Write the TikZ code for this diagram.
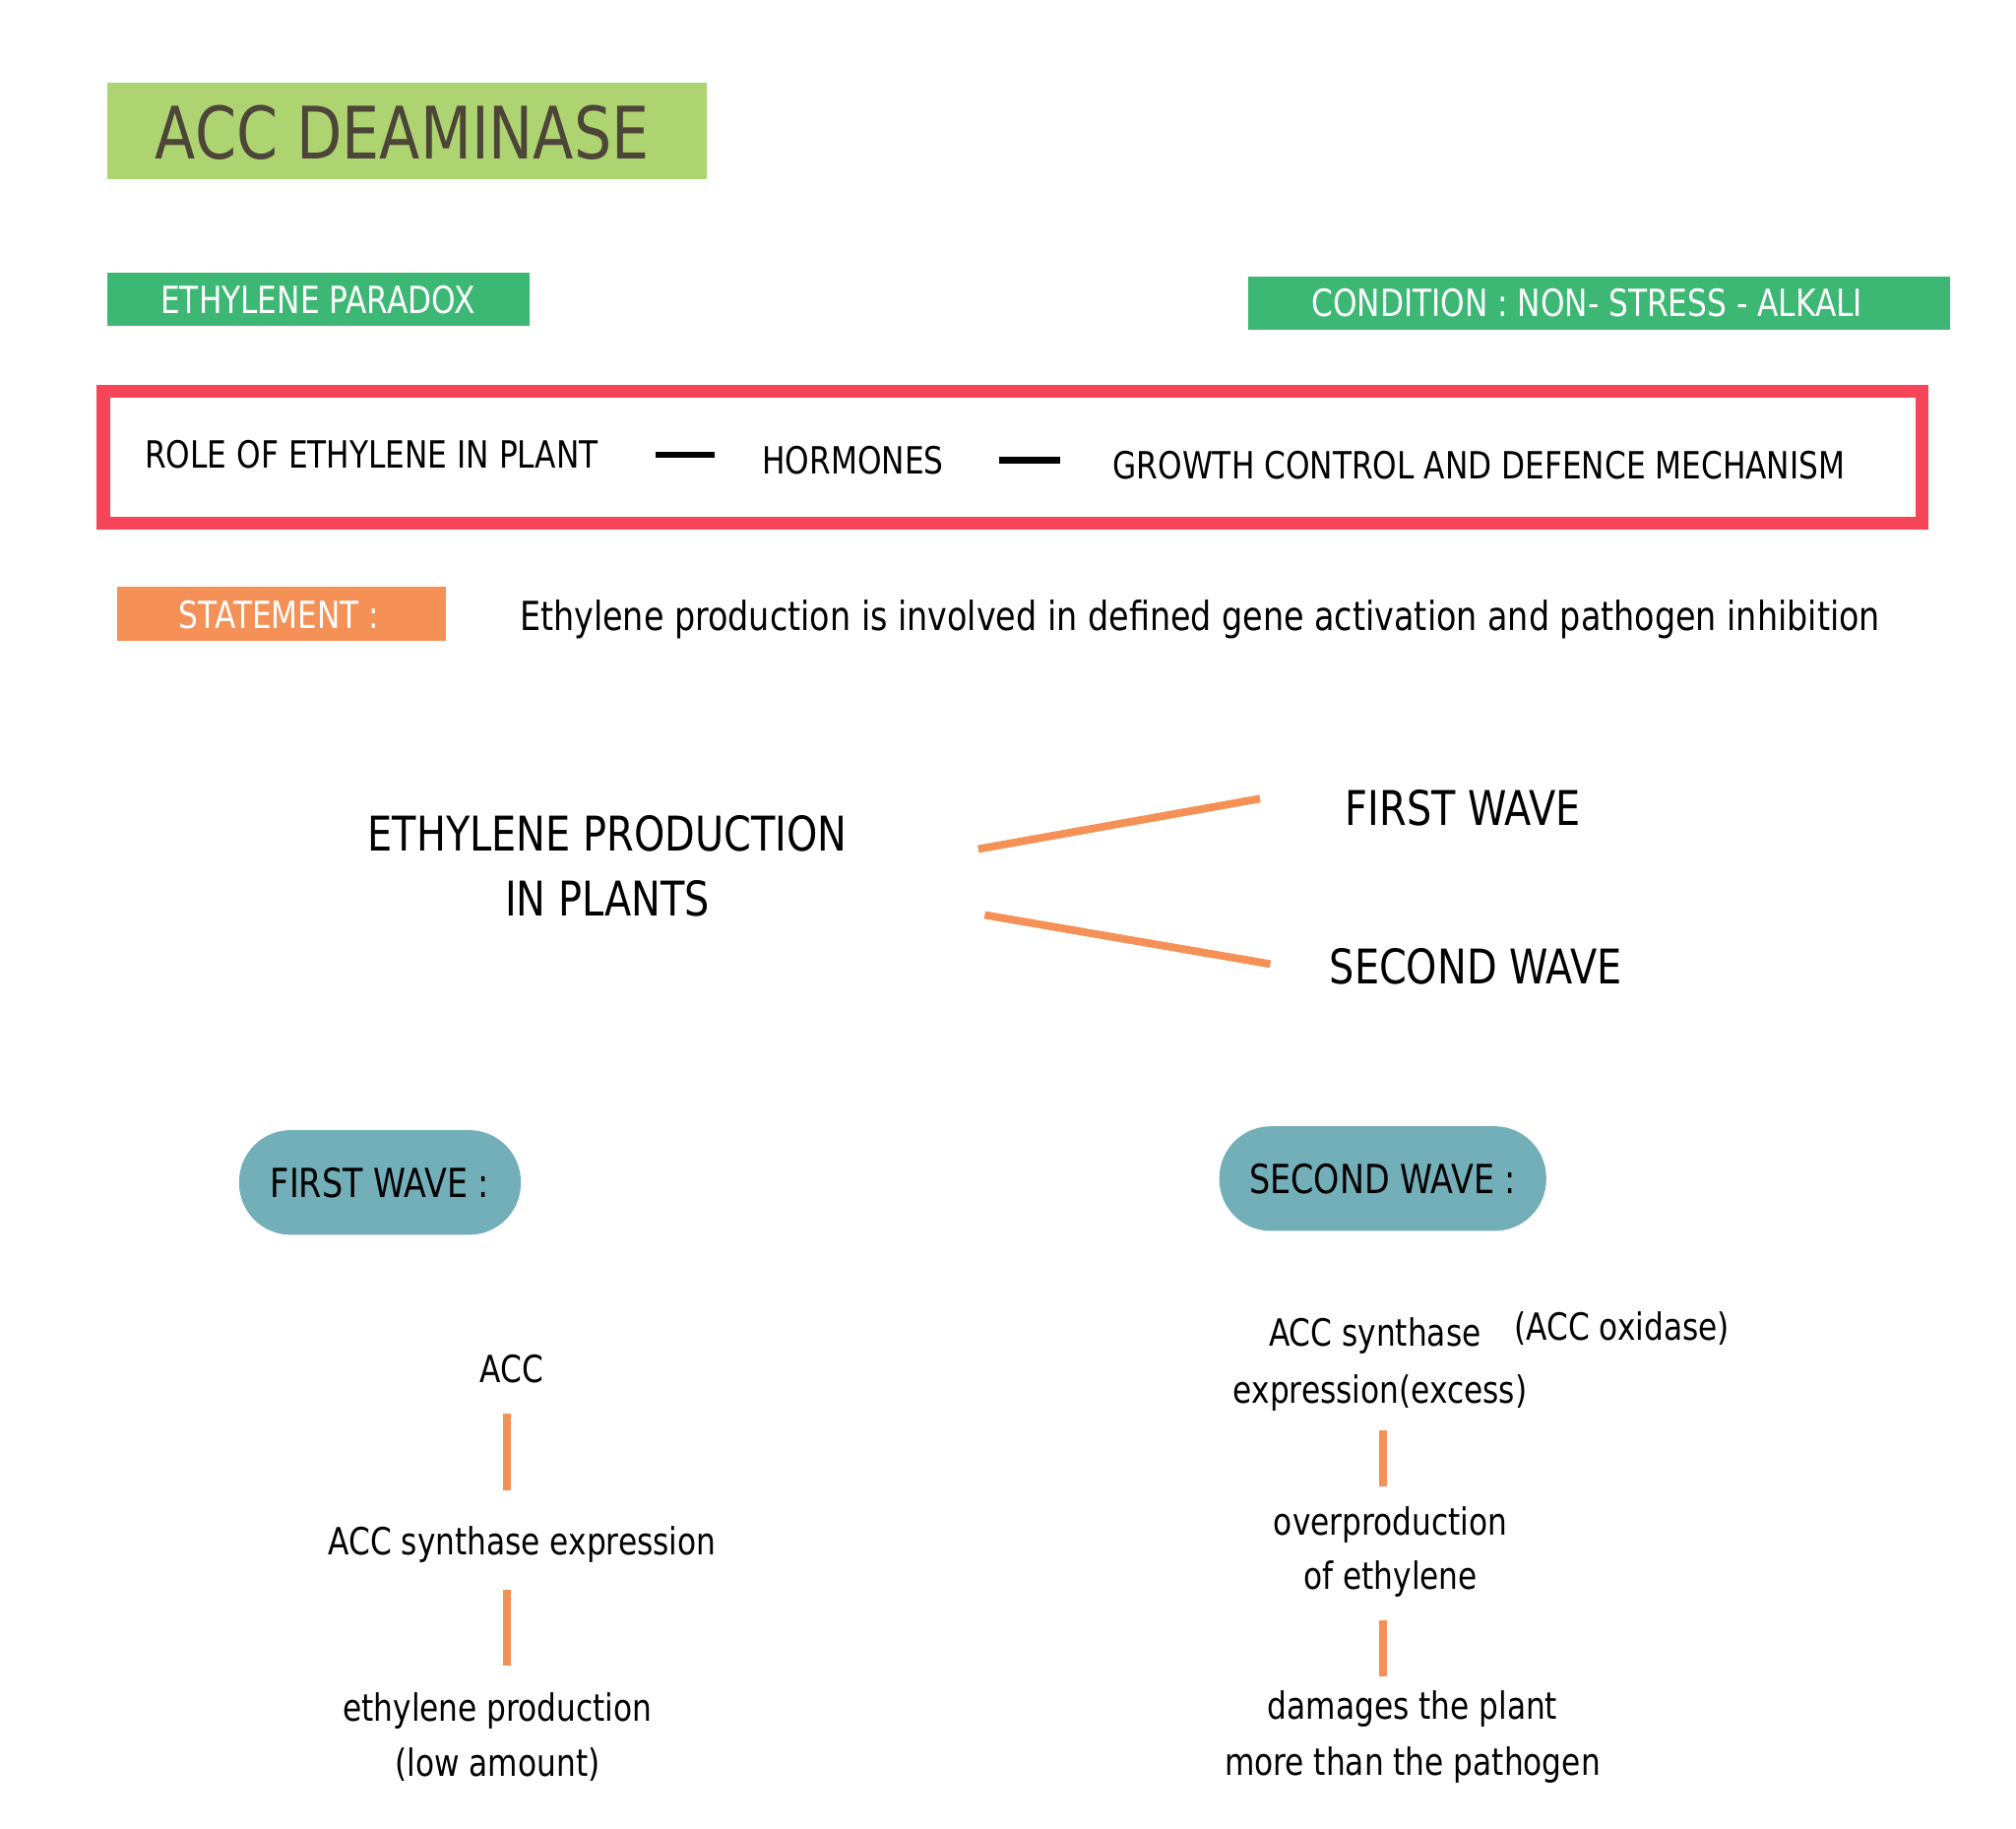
\documentclass[tikz,border=0pt]{standalone}
\usepackage{fontspec}
\setmainfont{DejaVu Sans}[FakeStretch=0.82]
\definecolor{lgreen}{HTML}{AED472}
\definecolor{dgreen}{HTML}{3DB874}
\definecolor{rred}{HTML}{F64558}
\definecolor{orng}{HTML}{F59157}
\definecolor{teal}{HTML}{72AFB9}
\definecolor{ttl}{HTML}{4D4538}
\begin{document}
\begin{tikzpicture}[x=1pt,y=-1pt,
  f/.style={font=\fontsize{#1}{#1}\selectfont},
  t/.style={f=29,inner sep=0,align=center},
  big/.style={font=\fontsize{37}{50}\selectfont,inner sep=0,align=center},
  band/.style={inner sep=0,text=white,f=29},
  conn/.style={orng,line width=6pt},
  bdash/.style={line width=5pt}]
\useasboundingbox (0,0) rectangle (1560,1415);
% title
\fill[lgreen] (83,64) rectangle (547,139);
\node[anchor=west,text=ttl,f=56,inner sep=0] (title) at (120,103) {ACC DEAMINASE};
\fill[dgreen] (83,211) rectangle (410,252);
\node[band] (para) at (246,232) {ETHYLENE PARADOX};
\fill[dgreen] (966,214) rectangle (1509,255);
\node[band] (cond) at (1228,234) {CONDITION : NON- STRESS - ALKALI};
% red box
\draw[rred,line width=10pt] (80,303) rectangle (1487,405);
\node[t,anchor=west] (role) at (112,352) {ROLE OF ETHYLENE IN PLANT};
\coordinate (d1a) at (507,352); \coordinate (d1b) at (553,352);
\draw[bdash] (d1a) -- (d1b);
\node[t] (horm) at (660,356) {HORMONES};
\coordinate (d2a) at (773,356); \coordinate (d2b) at (820,356);
\draw[bdash] (d2a) -- (d2b);
\node[t,anchor=west] (growth) at (861,360) {GROWTH CONTROL AND DEFENCE MECHANISM};
% statement
\fill[orng] (91,454) rectangle (345,496);
\node[band] (stat) at (216,476) {STATEMENT :};
\node[f=31,inner sep=0,anchor=west] (stext) at (402,479) {Ethylene production is involved in defined gene activation and pathogen inhibition};
% production
\node[big] (prod) at (470,670) {ETHYLENE PRODUCTION\\IN PLANTS};
\node[big] (fw) at (1132,625) {FIRST WAVE};
\node[big] (sw) at (1142,748) {SECOND WAVE};
\coordinate (l1a) at (757,657); \coordinate (l1b) at (975,618);
\coordinate (l2a) at (762,708); \coordinate (l2b) at (983,746);
\draw[conn] (l1a) -- (l1b);
\draw[conn] (l2a) -- (l2b);
% pills
\node[fill=teal,rounded corners=40pt,minimum width=218pt,minimum height=81pt,f=31,inner sep=0] (p1) at (294,915) {FIRST WAVE :};
\node[fill=teal,rounded corners=40pt,minimum width=253pt,minimum height=81pt,f=31,inner sep=0] (p2) at (1070,912) {SECOND WAVE :};
% left chain
\node[t] (acc) at (396,1059) {ACC};
\node[t] (accs) at (404,1195) {ACC synthase expression};
\node[t,font=\fontsize{29}{43}\selectfont] (eth) at (385,1344) {ethylene production\\(low amount)};
\coordinate (a1) at (392,1094); \coordinate (a2) at (392,1153);
\coordinate (a3) at (392,1230); \coordinate (a4) at (392,1289);
\draw[conn] (a1) -- (a2);
\draw[conn] (a3) -- (a4);
% right chain
\node[t] (rs) at (1064,1034) {ACC synthase};
\node[t] (ro) at (1255,1028) {(ACC oxidase)};
\node[t] (re) at (1068,1078) {expression(excess)};
\node[t,font=\fontsize{29}{42}\selectfont] (ov) at (1076,1201) {overproduction\\of ethylene};
\node[t,font=\fontsize{29}{43}\selectfont] (dm) at (1093,1344) {damages the plant\\more than the pathogen};
\coordinate (b1) at (1070,1107); \coordinate (b2) at (1070,1150);
\coordinate (b3) at (1070,1254); \coordinate (b4) at (1070,1297);
\draw[conn] (b1) -- (b2);
\draw[conn] (b3) -- (b4);
\end{tikzpicture}
\end{document}
